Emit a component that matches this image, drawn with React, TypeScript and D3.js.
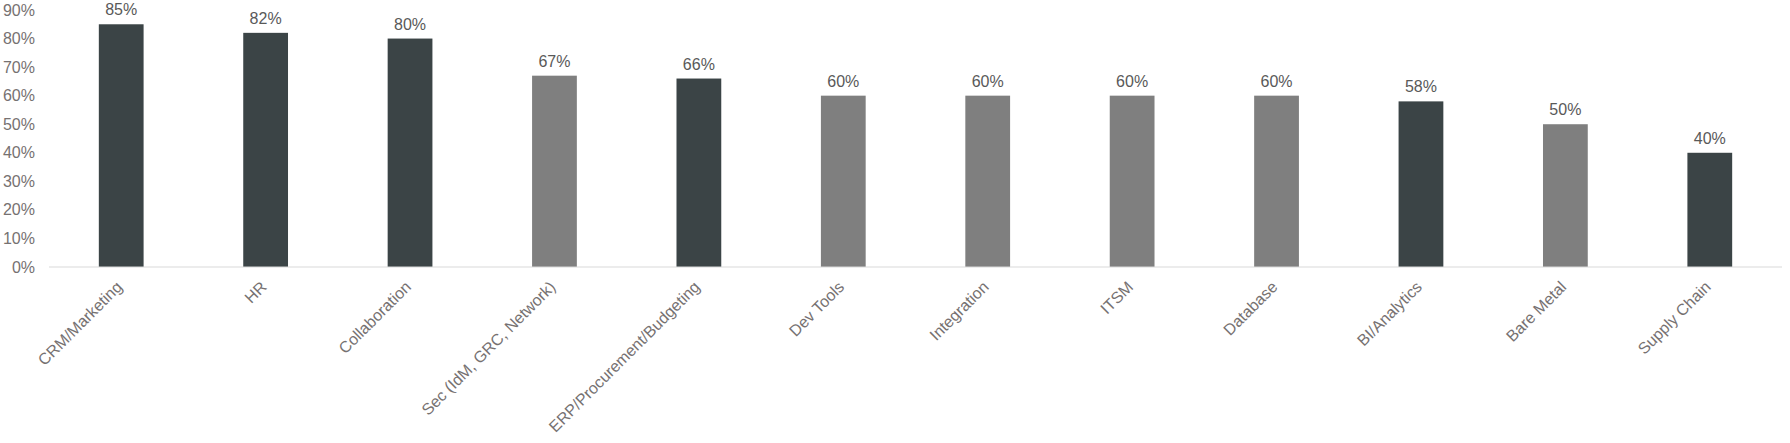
import { useEffect } from 'react';
import * as d3 from 'd3';

const categories = [
    'CRM/Marketing', 'HR', 'Collaboration', 'Sec (IdM, GRC, Network)', 'ERP/Procurement/Budgeting',
    'Dev Tools', 'Integration', 'ITSM', 'Database', 'BI/Analytics', 'Bare Metal', 'Supply Chain',
];
const values = [0.85, 0.82, 0.80, 0.67, 0.66, 0.60, 0.60, 0.60, 0.60, 0.58, 0.50, 0.40];
// 'dark' or 'gray' per category
const groups = ['dark', 'dark', 'dark', 'gray', 'dark', 'gray', 'gray', 'gray', 'gray', 'dark', 'gray', 'dark'];
const yTicks = [0, 0.1, 0.2, 0.3, 0.4, 0.5, 0.6, 0.7, 0.8, 0.9];

const width = 1790;
const height = 443;
const margin = { top: 10, right: 8, bottom: 176, left: 49 };

const colors: Record<string, string> = { dark: '#3B4446', gray: '#7F7F7F' };

export default function App() {
    useEffect(() => {
        document.body.style.margin = '0';
    }, []);

    const x = d3.scaleBand<string>()
        .domain(categories)
        .range([margin.left, width - margin.right])
        .paddingInner(0.69)
        .paddingOuter(0.345);

    const y = d3.scaleLinear()
        .domain([0, 0.9])
        .range([height - margin.bottom, margin.top]);

    const fmt = d3.format('.0%');
    const font = 'Liberation Sans, Arial, sans-serif';

    return (
        <svg width={width} height={height} style={{ display: 'block', background: '#fff' }} fontFamily={font}>
            {/* y axis labels */}
            {yTicks.map(t => (
                <text key={t} x={35} y={y(t)} dy="0.35em" textAnchor="end" fontSize={16} fill="#767171">
                    {fmt(t)}
                </text>
            ))}

            {/* bars */}
            {categories.map((c, i) => (
                <rect key={c}
                    x={x(c)}
                    y={y(values[i])}
                    width={x.bandwidth()}
                    height={y(0) - y(values[i])}
                    fill={colors[groups[i]]} />
            ))}

            {/* value labels */}
            {categories.map((c, i) => (
                <text key={c}
                    x={(x(c) as number) + x.bandwidth() / 2}
                    y={y(values[i]) - 9}
                    textAnchor="middle" fontSize={16} fill="#595959">
                    {fmt(values[i])}
                </text>
            ))}

            {/* baseline */}
            <line x1={margin.left} x2={width - margin.right} y1={y(0)} y2={y(0)} stroke="#D9D9D9" strokeWidth={1} />

            {/* category labels */}
            {categories.map(c => {
                const cx = (x(c) as number) + x.bandwidth() / 2 + 2;
                const cy = y(0) + 21;
                return (
                    <text key={c} x={cx} y={cy} textAnchor="end" fontSize={16} fill="#767171"
                        transform={`rotate(-45,${cx},${cy})`}>
                        {c}
                    </text>
                );
            })}
        </svg>
    );
}
